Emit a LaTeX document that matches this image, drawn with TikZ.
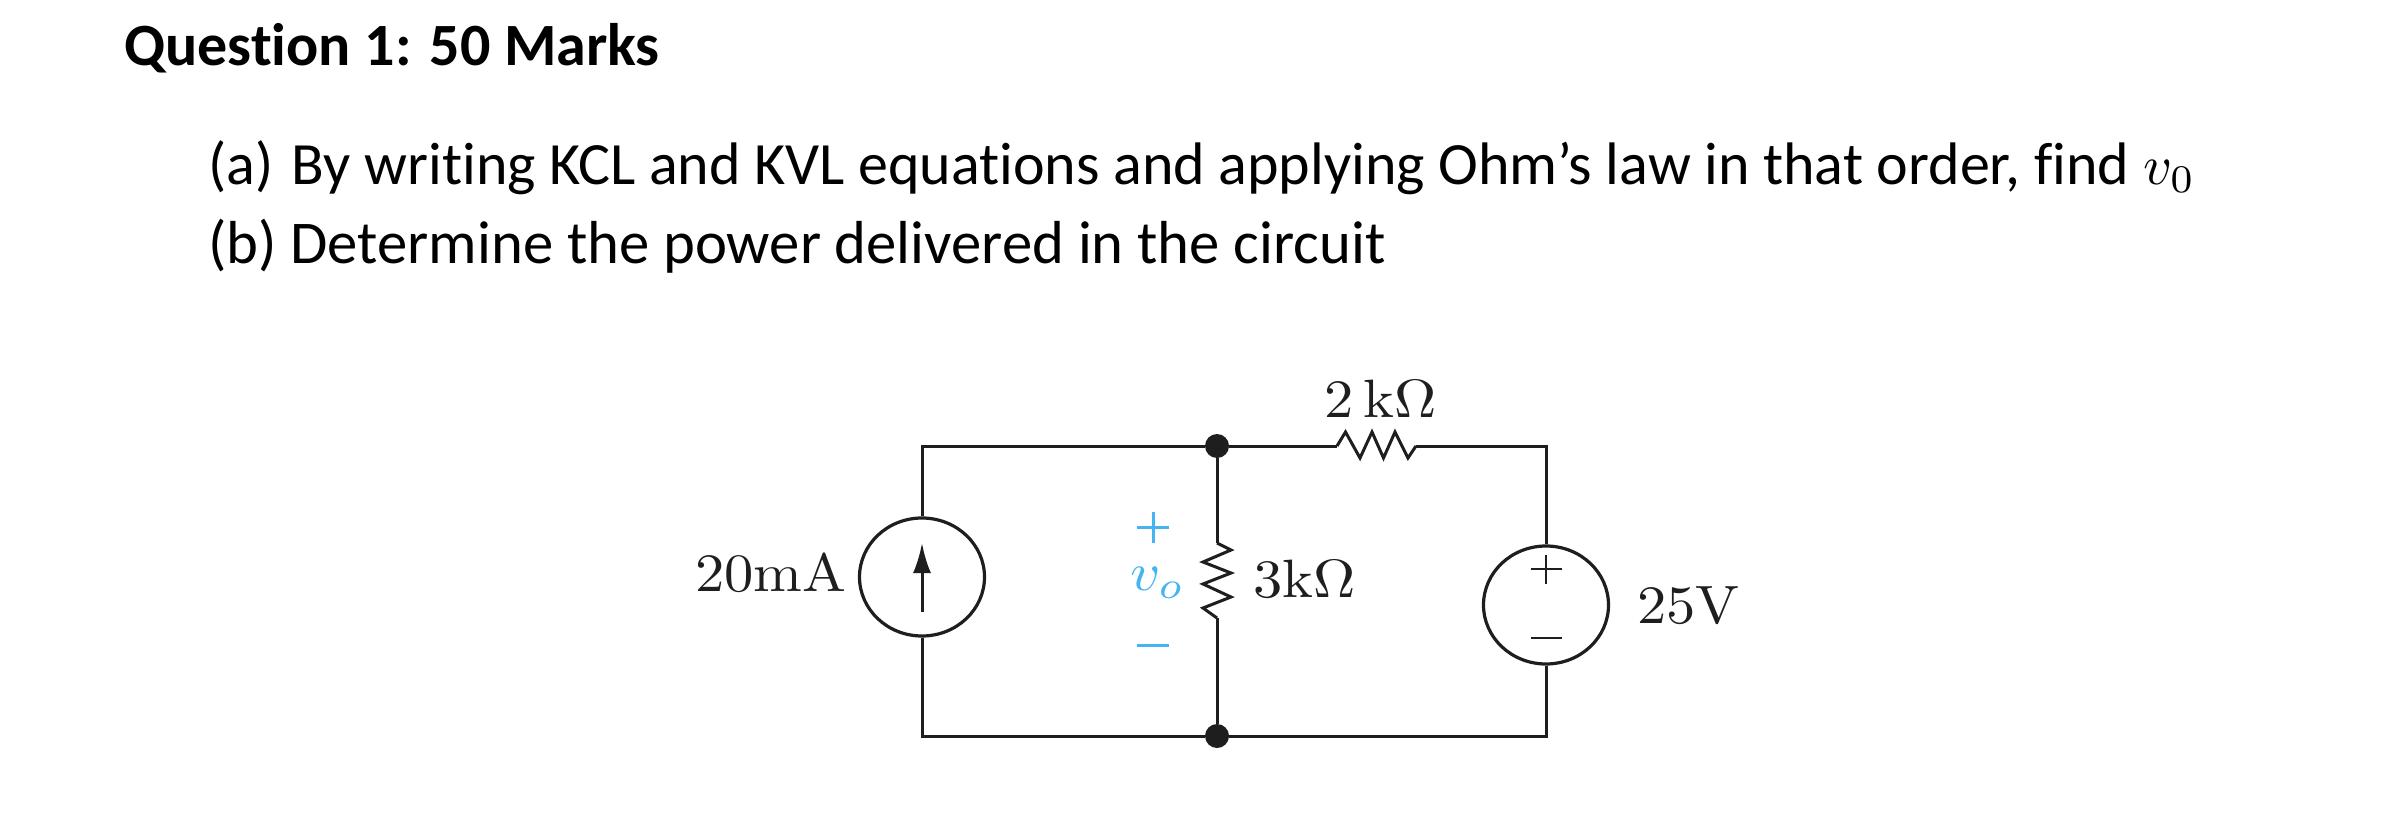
\RequirePackage{fix-cm}
\documentclass[tikz,border=0pt]{standalone}
\usepackage{graphicx}
\usepackage{fontspec}
\usetikzlibrary{arrows.meta,shapes.geometric}
\newfontfamily\carlito[Ligatures=NoCommon]{Carlito}
\definecolor{wireblack}{HTML}{1E1E1E}
\definecolor{voltblue}{HTML}{45B4F2}
\tikzset{
  x=1pt,y=-1pt,
  wire/.style={draw=wireblack,line width=3pt},
  rail/.style={wire,line join=miter},
  source/.style={ellipse,draw=wireblack,line width=3.2pt,fill=white,minimum width=125pt,minimum height=118pt,inner sep=0pt},
  junction/.style={circle,fill=wireblack,minimum size=24pt,inner sep=0pt},
  heading/.style={anchor=base west,inner sep=0pt,font=\carlito\bfseries\fontsize{60}{70}\selectfont,text=black},
  body/.style={anchor=base west,inner sep=0pt,font=\carlito\fontsize{60}{70}\selectfont,text=black},
  value/.style={anchor=base west,inner sep=0pt,xscale=5.85,yscale=5.4,font=\fontsize{10}{12}\selectfont,text=wireblack},
  bluemark/.style={draw=voltblue,line width=3pt},
  greymark/.style={draw=wireblack,line width=2.6pt},
}
\begin{document}
\begin{tikzpicture}
\useasboundingbox (0,0) rectangle (2404,840);
\fill[white] (0,0) rectangle (2404,840);
% text
\node[heading] (title) at (124,66) {Question 1: 50 Marks};
\node[body] (parta) at (208,184) {(a)\hspace{5pt} By writing KCL and KVL equations and applying Ohm’s law in that order, find \scalebox{5.6}{\fontsize{10}{12}\selectfont$v_0$}};
\node[body,font=\carlito\fontsize{60.7}{70}\selectfont] (partb) at (208,263) {(b) Determine the power delivered in the circuit};
% nodes
\node[source] (isrc) at (922,577) {};
\node[source] (vsrc) at (1546,605) {};
\node[junction] (n1) at (1217,446) {};
\node[junction] (n2) at (1217,736) {};
\coordinate (r2a) at (1337,446);
\coordinate (r2b) at (1416,446);
\coordinate (r3a) at (1217,543);
\coordinate (r3b) at (1217,618);
\coordinate (iatail) at (922,612);
\coordinate (iahead) at (922,543);
% wires
\draw[rail] (isrc) |- (n1);
\draw[rail] (isrc) |- (n2);
\draw[rail] (n1) -- (r2a);
\draw[rail] (r2b) -| (vsrc);
\draw[rail] (vsrc) |- (n2);
\draw[rail] (n1) -- (r3a);
\draw[rail] (r3b) -- (n2);
% resistors
\draw[wire,line join=miter] (r2a) -- (1345.5,432) -- (1360,458) -- (1372,432) -- (1383.5,458) -- (1395,432) -- (1408,458) -- (r2b);
\draw[wire,line join=miter] (r3a) -- (1231,550) -- (1203,562) -- (1231,573) -- (1203,584) -- (1231,597) -- (1203,608) -- (r3b);
% source symbols
\draw[wire,-{Latex[length=30pt,width=18pt]}] (iatail) -- (iahead);
\draw[greymark] (1530.5,569) -- (1561.5,569) (1546,554.5) -- (1546,583.5);
\draw[greymark] (1530.5,638) -- (1561.5,638);
% voltage label
\draw[bluemark] (1137,527) -- (1169,527) (1153,511.5) -- (1153,542.5);
\draw[bluemark] (1137,645) -- (1169,645);
\node[value,text=voltblue] (vo) at (1129,590) {$v_o$};
% values
\node[value] (l20) at (694,591) {20mA};
\node[value] (l3k) at (1252,597) {3k$\Omega$};
\node[value] (l2k) at (1323,417) {2\,k$\Omega$};
\node[value] (l25) at (1636,623) {25V};
\end{tikzpicture}
\end{document}
